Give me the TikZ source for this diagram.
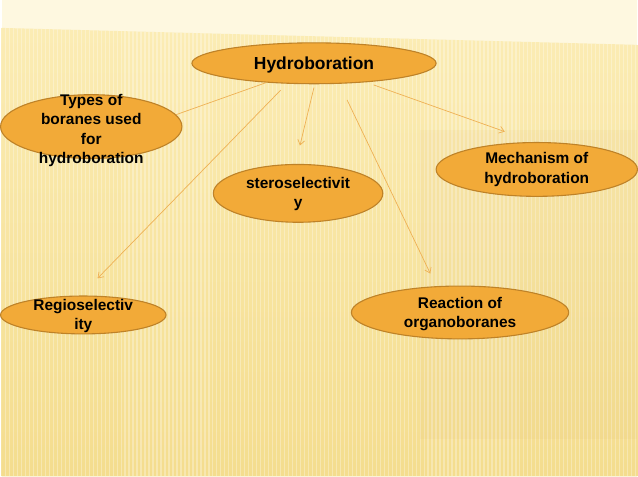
\documentclass[tikz,border=0pt]{standalone}
\usepackage{fontspec}
\setmainfont{Liberation Sans}
\usetikzlibrary{shapes.geometric,arrows.meta}

\definecolor{bgtop}{RGB}{254,248,224}
\definecolor{bgmid}{RGB}{251,236,180}
\definecolor{bgbot}{RGB}{244,221,142}
\definecolor{bubblefill}{RGB}{242,170,56}
\definecolor{bubbleline}{RGB}{190,130,40}
\definecolor{linkcol}{RGB}{238,176,84}

\begin{document}
\begin{tikzpicture}[
  x=1pt, y=-1pt,
  >={Straight Barb[length=5pt,width=7pt]},
  bubble/.style={ellipse,draw=bubbleline,fill=bubblefill,line width=1.1pt,inner sep=0pt},
  txt/.style={align=center,inner sep=0pt,font=\fontsize{15.5}{19.3}\selectfont\bfseries},
  link/.style={linkcol,line width=0.7pt},
  arrow/.style={link,->}
]
  % background
  \fill[bgtop] (0,0) rectangle (638,478);
  \shade[top color=bgmid, bottom color=bgbot] (0,28) -- (638,45) -- (638,478) -- (0,478) -- cycle;
  \begin{scope}
    \clip (0,28) -- (638,45) -- (638,478) -- (0,478) -- cycle;
    \foreach \x in {0,4,...,636}
      \draw[white,opacity=0.3,line width=1.3pt] (\x,20) -- (\x,478);
    \fill[brown,opacity=0.04] (420,130) rectangle (638,440);
  \end{scope}

  % bubbles
  \node[bubble,minimum width=245pt,minimum height=41pt] (hydro) at (313.5,63.5) {};
  \node[bubble,minimum width=182pt,minimum height=64pt] (types) at (90,127) {};
  \node[bubble,minimum width=170pt,minimum height=58pt] (stero) at (297.5,194) {};
  \node[bubble,minimum width=202pt,minimum height=54pt] (mech) at (537,170) {};
  \node[bubble,minimum width=166pt,minimum height=38pt] (regio) at (82,316) {};
  \node[bubble,minimum width=218pt,minimum height=53pt] (react) at (460,313.5) {};

  % texts
  \node[txt,font=\fontsize{17.5}{21}\selectfont\bfseries] (hydroText) at (313.5,65) {Hydroboration};
  \node[txt] (typesText) at (90,131) {Types of\\boranes used\\for\\hydroboration};
  \node[txt] (steroText) at (297.5,195) {steroselectivit\\y};
  \node[txt] (mechText) at (537,170) {Mechanism of\\hydroboration};
  \node[txt] (regioText) at (82,317) {Regioselectiv\\ity};
  \node[txt] (reactText) at (460,315) {Reaction of\\organoboranes};

  % connectors
  \draw[link] (hydro.202) -- (types.8);
  \draw[arrow,shorten <=9pt,shorten >=24pt] (hydro.217) -- (regio.97);
  \draw[arrow,shorten <=3.5pt,shorten >=19pt] (hydro.272) -- (stero.95.5);
  \draw[arrow,shorten <=18pt,shorten >=14pt] (hydro.321) -- (react.132.5);
  \draw[arrow,shorten <=8pt,shorten >=31pt] (hydro.340) -- (mech.96.6);
\end{tikzpicture}
\end{document}
